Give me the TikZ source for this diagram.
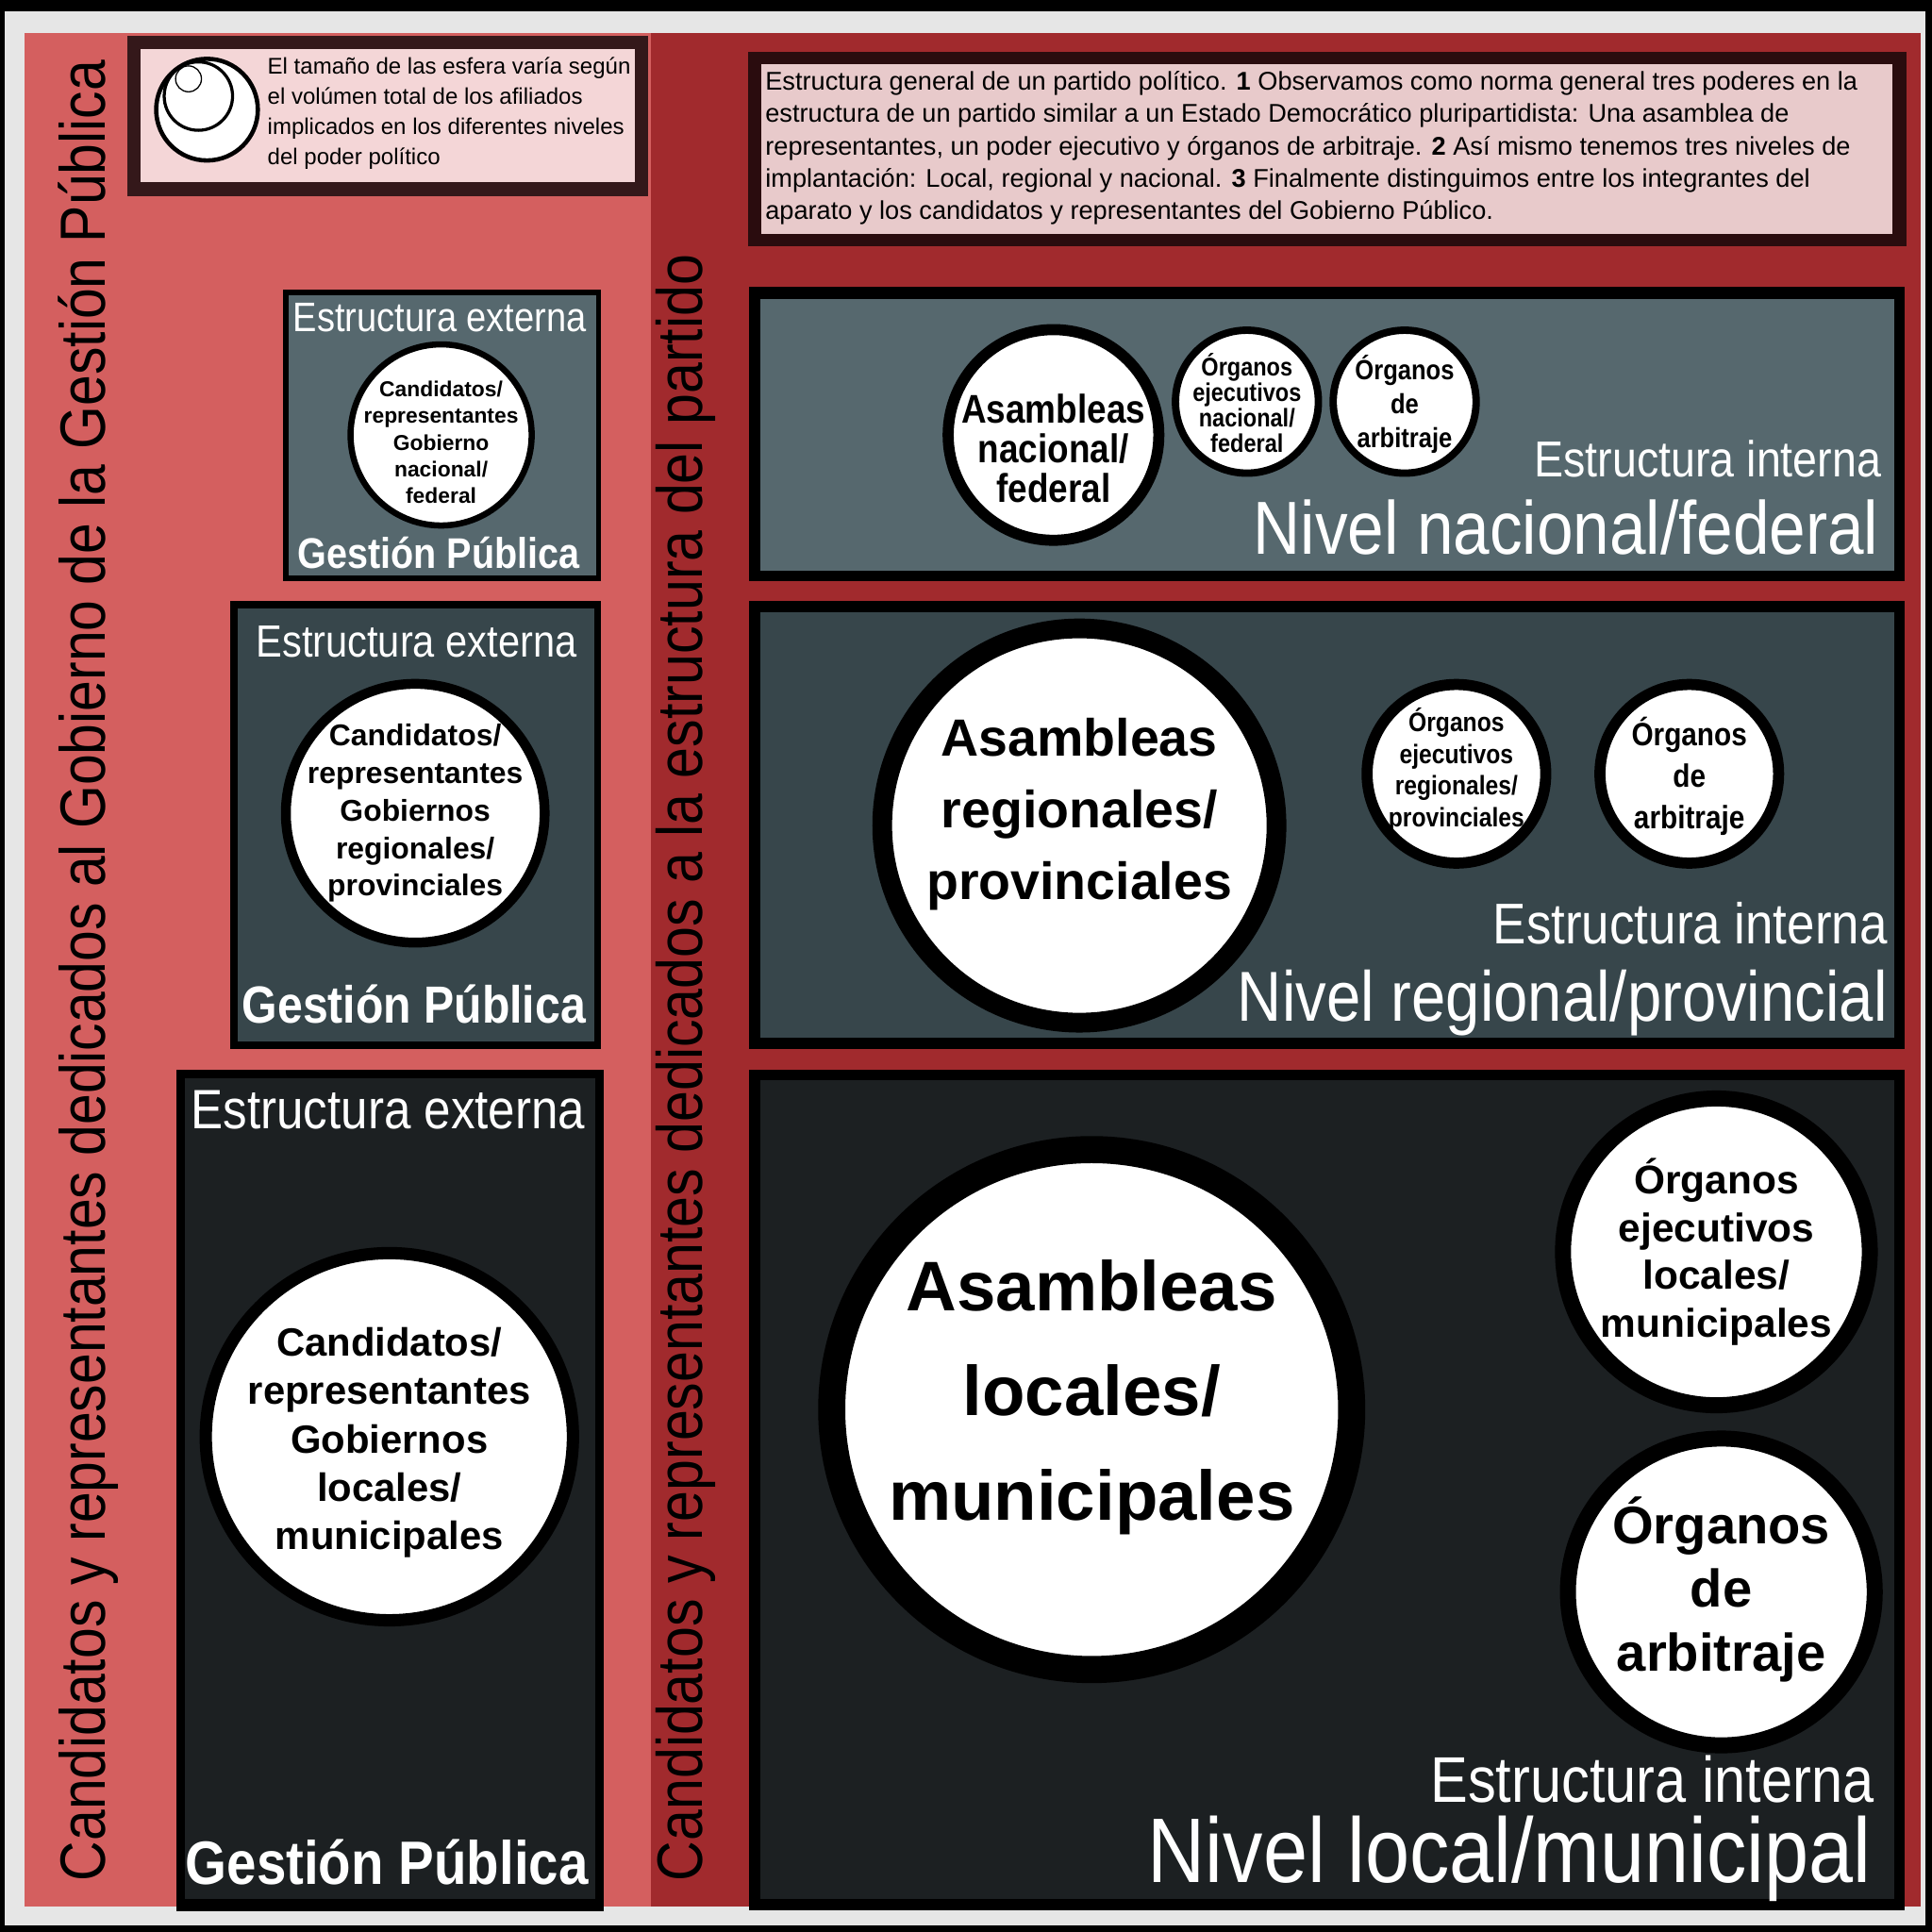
\documentclass[tikz,border=0pt]{standalone}
\usepackage{fontspec}
\setmainfont{Liberation Sans}
\newfontfamily\nar[FakeStretch=0.87]{Liberation Sans}
\definecolor{cgray}{HTML}{E6E6E6}
\definecolor{cpink}{HTML}{D45F5F}
\definecolor{cred}{HTML}{A12A2D}
\definecolor{legframe}{HTML}{34181A}
\definecolor{legfill}{HTML}{F4D6D7}
\definecolor{txtframe}{HTML}{2A0C0E}
\definecolor{txtfill}{HTML}{E8CACB}
\definecolor{slateA}{HTML}{56686E}
\definecolor{slateB}{HTML}{37464B}
\definecolor{slateC}{HTML}{1C2022}
\tikzset{
  ring/.style={circle, draw=black, fill=white, inner sep=0pt},
  ctext/.style={align=center, inner sep=0pt, text=black},
  wlabel/.style={text=white, inner sep=0pt},
  vlabel/.style={rotate=90, anchor=base west, inner sep=0pt, text=black},
}
\begin{document}
\begin{tikzpicture}[x=1pt,y=-1pt]
\useasboundingbox (0,0) rectangle (1568,1568);
% frame and panels
\fill[black] (0,0) rectangle (1568,1568);
\fill[cgray] (4,9) rectangle (1563,1563);
\fill[cpink] (20,27) rectangle (528,1547);
\fill[cred] (528,27) rectangle (1559,1547);

% legend
\fill[legframe] (103,29) rectangle (526,159);
\fill[legfill] (114,40) rectangle (515,148);
\node[ring, line width=3.5pt, minimum size=82.5pt] (lg1) at (168,89) {};
\node[ring, line width=2.5pt, minimum size=55.5pt] (lg2) at (161,78) {};
\node[ring, line width=1pt, minimum size=21pt] (lg3) at (153,64) {};
\node[anchor=north west, inner sep=0pt, align=left, font=\fontsize{18.4}{24.5}\selectfont] (legtxt) at (217,42)
  {\rule{0pt}{18pt}El tamaño de las esfera varía según\\el volúmen total de los afiliados\\implicados en los diferentes niveles\\del poder político};

% description
\fill[txtframe] (607,42) rectangle (1547,200);
\fill[txtfill] (618,52) rectangle (1536,190);
\node[anchor=north west, inner sep=0pt, align=left, font=\fontsize{20.8}{26.2}\selectfont] (desc) at (621,53)
  {\rule{0pt}{20pt}Estructura general de un partido político. \textbf{1} Observamos como norma general tres poderes en la\\
   estructura de un partido similar a un Estado Democrático pluripartidista: Una asamblea de\\
   representantes, un poder ejecutivo y órganos de arbitraje. \textbf{2} Así mismo tenemos tres niveles de\\
   implantación: Local, regional y nacional. \textbf{3} Finalmente distinguimos entre los integrantes del\\
   aparato y los candidatos y representantes del Gobierno Público.};

% right level boxes
\fill[black] (608,233) rectangle (1546,472);
\fill[slateA] (617,243) rectangle (1537,463);
\fill[black] (608,488) rectangle (1546,851);
\fill[slateB] (617,497) rectangle (1537,842);
\fill[black] (608,868) rectangle (1546,1550);
\fill[slateC] (617,877) rectangle (1537,1541);

% left boxes
\fill[black] (230,235) rectangle (488,472);
\fill[slateA] (234,240) rectangle (484,467);
\fill[black] (187,488) rectangle (488,851);
\fill[slateB] (193,494) rectangle (482,845);
\fill[black] (143,868) rectangle (490,1551);
\fill[slateC] (150,875) rectangle (483,1541);

% vertical texts
\node[vlabel, font=\nar\fontsize{51.8}{60}\selectfont] (vleft) at (85,1527)
  {Candidatos y representantes dedicados al Gobierno de la Gestión Pública};
\node[vlabel, font=\nar\fontsize{52}{60}\selectfont] (vright) at (570,1527)
  {Candidatos y representantes dedicados a la estructura del partido};

% ---- nacional (right)
\node[ring, line width=9pt, minimum size=171pt] (nasam) at (855,353) {};
\node[ring, line width=6pt, minimum size=116pt] (nejec) at (1012,326) {};
\node[ring, line width=6pt, minimum size=116pt] (narb) at (1140,326) {};
\node[ctext, font=\nar\bfseries\fontsize{32.5}{32}\selectfont] (nasamt) at (855,364) {Asambleas\\nacional/\\federal};
\node[ctext, font=\nar\bfseries\fontsize{20.7}{20.7}\selectfont] (neject) at (1012,327) {Órganos\\ejecutivos\\nacional/\\federal};
\node[ctext, font=\nar\bfseries\fontsize{22.5}{27.5}\selectfont] (narbt) at (1140,328) {Órganos\\de\\arbitraje};
\node[wlabel, anchor=base east, font=\nar\fontsize{41}{48}\selectfont] (nint) at (1527,387) {Estructura interna};
\node[wlabel, anchor=base east, font=\nar\fontsize{61}{70}\selectfont] (nniv) at (1525,450) {Nivel nacional/federal};

% ---- regional (right)
\node[ring, line width=16pt, minimum size=320pt] (rasam) at (876,670) {};
\node[ring, line width=9pt, minimum size=145pt] (rejec) at (1182,628) {};
\node[ring, line width=9pt, minimum size=145pt] (rarb) at (1371,628) {};
\node[ctext, font=\bfseries\fontsize{42.5}{58}\selectfont] (rasamt) at (876,661) {Asambleas\\regionales/\\provinciales};
\node[ctext, font=\nar\bfseries\fontsize{21.7}{25.7}\selectfont] (reject) at (1182,625) {Órganos\\ejecutivos\\regionales/\\provinciales};
\node[ctext, font=\nar\bfseries\fontsize{26.2}{33.5}\selectfont] (rarbt) at (1371,630) {Órganos\\de\\arbitraje};
\node[wlabel, anchor=base east, font=\nar\fontsize{46.6}{54}\selectfont] (rint) at (1532,766) {Estructura interna};
\node[wlabel, anchor=base east, font=\nar\fontsize{57.4}{66}\selectfont] (rniv) at (1532,829) {Nivel regional/provincial};

% ---- local (right)
\node[ring, line width=22pt, minimum size=422pt] (lasam) at (886,1144) {};
\node[ring, line width=13pt, minimum size=249pt] (lejec) at (1393,1016) {};
\node[ring, line width=13pt, minimum size=249pt] (larb) at (1397,1292) {};
\node[ctext, font=\bfseries\fontsize{57}{85}\selectfont] (lasamt) at (886,1134) {Asambleas\\locales/\\municipales};
\node[ctext, font=\bfseries\fontsize{32.5}{38.7}\selectfont] (leject) at (1393,1016) {Órganos\\ejecutivos\\locales/\\municipales};
\node[ctext, font=\bfseries\fontsize{43}{52}\selectfont] (larbt) at (1397,1290) {Órganos\\de\\arbitraje};
\node[wlabel, anchor=base east, font=\nar\fontsize{52.4}{60}\selectfont] (lint) at (1521,1463) {Estructura interna};
\node[wlabel, anchor=base east, font=\nar\fontsize{74.5}{86}\selectfont] (lniv) at (1519,1528) {Nivel local/municipal};

% ---- left (gestión pública)
\node[wlabel, anchor=base, font=\nar\fontsize{33.5}{40}\selectfont] (gnext) at (357,269) {Estructura externa};
\node[ring, line width=5pt, minimum size=147pt] (gnc) at (358,353) {};
\node[ctext, font=\bfseries\fontsize{17.5}{21.7}\selectfont] (gnct) at (358,359) {Candidatos/\\representantes\\Gobierno\\nacional/\\federal};
\node[wlabel, anchor=base, font=\nar\bfseries\fontsize{34.8}{40}\selectfont] (gngp) at (356,461) {Gestión Pública};

\node[wlabel, anchor=base, font=\nar\fontsize{36.6}{44}\selectfont] (grext) at (338,533) {Estructura externa};
\node[ring, line width=8pt, minimum size=210pt] (grc) at (337,660) {};
\node[ctext, font=\bfseries\fontsize{24.4}{30.5}\selectfont] (grct) at (337,660) {Candidatos/\\representantes\\Gobiernos\\regionales/\\provinciales};
\node[wlabel, anchor=base, font=\nar\bfseries\fontsize{42.4}{50}\selectfont] (grgp) at (336,830) {Gestión Pública};

\node[wlabel, anchor=base, font=\nar\fontsize{45}{54}\selectfont] (glext) at (315,916) {Estructura externa};
\node[ring, line width=10pt, minimum size=298pt] (glc) at (316,1166) {};
\node[ctext, font=\bfseries\fontsize{32}{39.3}\selectfont] (glct) at (316,1171) {Candidatos/\\representantes\\Gobiernos\\locales/\\municipales};
\node[wlabel, anchor=base, font=\nar\bfseries\fontsize{49.7}{58}\selectfont] (glgp) at (314,1529) {Gestión Pública};
\end{tikzpicture}
\end{document}
